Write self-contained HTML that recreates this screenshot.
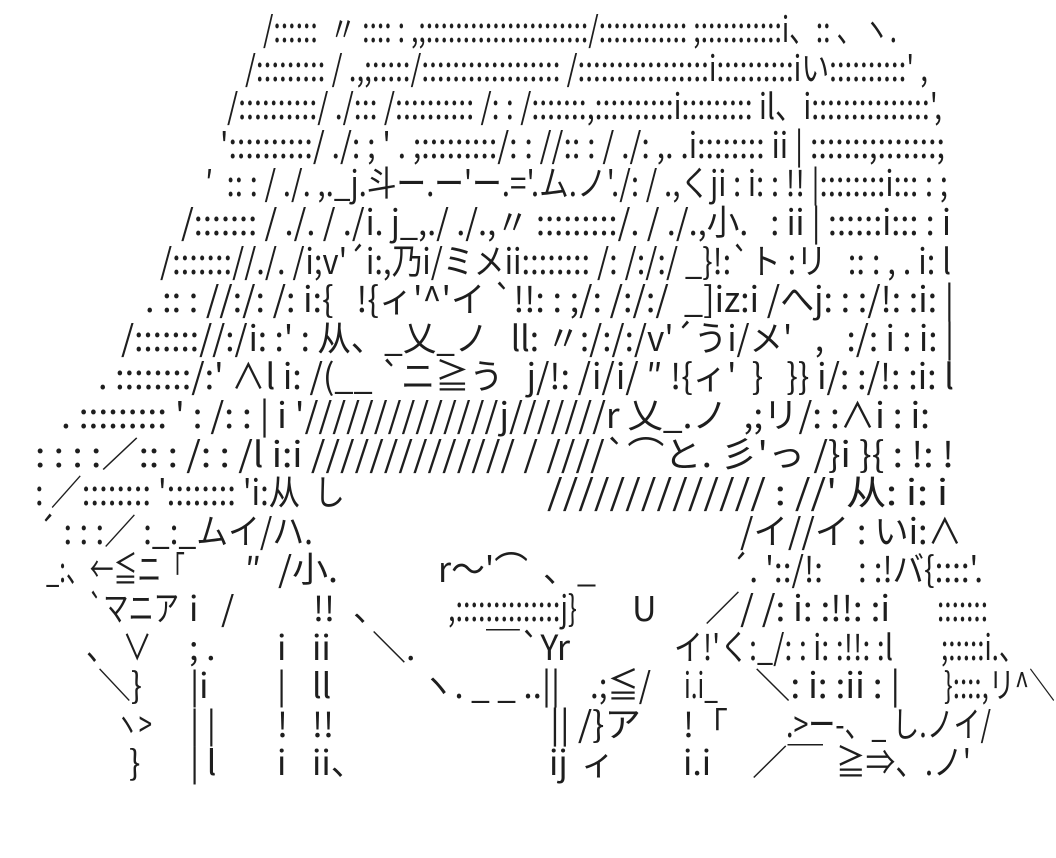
<!DOCTYPE html>
<html><head><meta charset="utf-8">
<style>
html,body{margin:0;padding:0;background:#fff;}
body{width:1056px;height:858px;position:relative;overflow:hidden;}
.s{position:absolute;white-space:pre;font-family:"Noto Sans CJK JP","Liberation Sans",sans-serif;font-size:35px;line-height:38px;height:38px;color:#1e1e1e;transform-origin:0 50%;}
.n{font-size:34px;}
</style></head><body>
<span class="s" style="left:263px;top:9px;--w:634">/::::::  〃 :::: : ,;::::::::::::::::::::::/:::::::::::: ;:::::::::::i、:: 、ヽ.</span>
<span class="s" style="left:245px;top:48px;--w:683">/::::::::: / .,;:::::/:::::::::::::::::: /:::::::::::::::::i::::::::::iい::::::::::' ,</span>
<span class="s" style="left:227px;top:86px;--w:715">/::::::::::/ ./::: /:::::::::: /: : /:::::::,::::::::::i::::::::: il、i:::::::::::::::',</span>
<span class="s" style="left:220px;top:125px;--w:725">'::::::::::/ ./: ; ' . ;:::::::::/: : //:: : / ./: ,. .i:::::::: ii | :::::::;:::::::;</span>
<span class="s" style="left:205px;top:163px;--w:743">′  :: : / ./. ,._j.斗ー.ー'ー.='.ム.ノ'./: / .,くji : i: : !! |::::::::i::: : ;</span>
<span class="s" style="left:181px;top:202px;--w:770">/::::::: / ./. / ./i. j_,./ ./.,〃 :::::::::/. / ./.,小.   : ii | ::::::i::: : i</span>
<span class="s" style="left:160px;top:241px;--w:791">/::::::://./. /i;v'´i:,乃i/ミメii:::::::: /: /:/:/ _}!:`ト :リ   :: : , . i: l</span>
<span class="s" style="left:145px;top:279px;--w:809">. :: : //:/: /: i:{   !{ィ'^'イ `!!: : ;/: /:/:/  _]iz:i /へj: : :/!: :i: |</span>
<span class="s" style="left:121px;top:318px;--w:833">/::::::://:/i: :' : 从、_乂_ノ   ll: 〃:/:/:/v'´うi/メ'   ,   :/: i : i: |</span>
<span class="s" style="left:98px;top:356px;--w:856">. ::::::::/:' ∧l i: /(__ `ニ≧う   j/!: /i/i/ ″ !{ィ'  }   }} i/: :/!: :i: l</span>
<span class="s" style="left:61px;top:395px;--w:869">. ::::::::: ' : /: : | i '//////////////j///////r 乂_.ノ  ,;リ/: :∧i : i:</span>
<span class="s" style="left:35px;top:434px;--w:919">: : : :／:: : /: : /l i:i ////////////// / ////`⌒と. 彡'っ /}i }{ : !: !</span>
<span class="s" style="left:35px;top:472px;--w:310">: ／:::::::: ':::::::: 'i:从  し</span>
<span class="s" style="left:547px;top:472px;--w:401">////////////// : //' 从: i: i</span>
<span class="s" style="left:37px;top:511px;--w:276">´ : : :／ :_:_ムイ/ハ.</span>
<span class="s" style="left:740px;top:511px;--w:222">/イ//イ : いi:∧</span>
<span class="s" style="left:46px;top:549px;--w:139">_:、←≦ニ「</span>
<span class="s n" style="left:245px;top:549px;">″</span>
<span class="s" style="left:278px;top:549px;--w:60">/小.</span>
<span class="s" style="left:438px;top:549px;--w:90">r～'⌒</span>
<span class="s n" style="left:543px;top:549px;">、_</span>
<span class="s" style="left:730px;top:549px;--w:93">´. '::/!:</span>
<span class="s" style="left:858px;top:549px;--w:125">: :!バ{::::'.</span>
<span class="s" style="left:88px;top:588px;--w:91">`マニア</span>
<span class="s n" style="left:189px;top:588px;">i</span>
<span class="s n" style="left:221px;top:588px;">/</span>
<span class="s n" style="left:313px;top:588px;">!!</span>
<span class="s n" style="left:353px;top:588px;">、</span>
<span class="s" style="left:448px;top:588px;--w:129">,::::::::::::::j}</span>
<span class="s n" style="left:632px;top:588px;">U</span>
<span class="s" style="left:705px;top:588px;--w:185">／/ /: i: :!!: :i</span>
<span class="s" style="left:937px;top:588px;--w:51">:::::::</span>
<span class="s" style="left:86px;top:627px;--w:66">、 ∨</span>
<span class="s n" style="left:189px;top:627px;">; .</span>
<span class="s n" style="left:277px;top:627px;">i</span>
<span class="s n" style="left:312px;top:627px;">ii</span>
<span class="s n" style="left:372px;top:627px;">＼.</span>
<span class="s" style="left:486px;top:627px;--w:84">￣`Yr</span>
<span class="s" style="left:674px;top:627px;--w:219">イ!'く:_/: : i: :!!: :l</span>
<span class="s" style="left:941px;top:627px;--w:84">;:::::i.、</span>
<span class="s" style="left:98px;top:665px;--w:44">＼}</span>
<span class="s n" style="left:190px;top:665px;">|i</span>
<span class="s n" style="left:277px;top:665px;">|</span>
<span class="s n" style="left:312px;top:665px;">ll</span>
<span class="s" style="left:421px;top:665px;--w:139">ヽ. _ _ ..||</span>
<span class="s" style="left:590px;top:665px;--w:61">.;≦/</span>
<span class="s" style="left:684px;top:665px;--w:34">i.i_</span>
<span class="s" style="left:755px;top:665px;--w:145">＼: i: :ii : |</span>
<span class="s" style="left:944px;top:665px;--w:111">}::::,リ^＼</span>
<span class="s" style="left:115px;top:704px;--w:37">ヽ></span>
<span class="s n" style="left:190px;top:704px;">| |</span>
<span class="s n" style="left:277px;top:704px;">!</span>
<span class="s n" style="left:312px;top:704px;">!!</span>
<span class="s" style="left:550px;top:704px;--w:91">|| /}ア</span>
<span class="s n" style="left:683px;top:704px;">!「</span>
<span class="s" style="left:786px;top:704px;--w:205">.>ー-、_ し.ノイ/</span>
<span class="s n" style="left:129px;top:742px;">}</span>
<span class="s n" style="left:190px;top:742px;">| l</span>
<span class="s n" style="left:277px;top:742px;">i</span>
<span class="s n" style="left:312px;top:742px;">ii、</span>
<span class="s n" style="left:549px;top:742px;">ij</span>
<span class="s n" style="left:581px;top:742px;">ィ</span>
<span class="s n" style="left:683px;top:742px;">i.i</span>
<span class="s" style="left:752px;top:742px;--w:71">／￣</span>
<span class="s" style="left:836px;top:742px;--w:135">≧⇒、.ノ'</span>
<script>
(function(){
  var els=document.querySelectorAll('.s');
  for(var i=0;i<els.length;i++){
    var e=els[i];
    var w=parseFloat(e.style.getPropertyValue('--w'));
    var cw=e.getBoundingClientRect().width;
    if(w&&cw>0){e.style.transform='scaleX('+(w/cw)+')';}
  }
})();
</script>
</body></html>
